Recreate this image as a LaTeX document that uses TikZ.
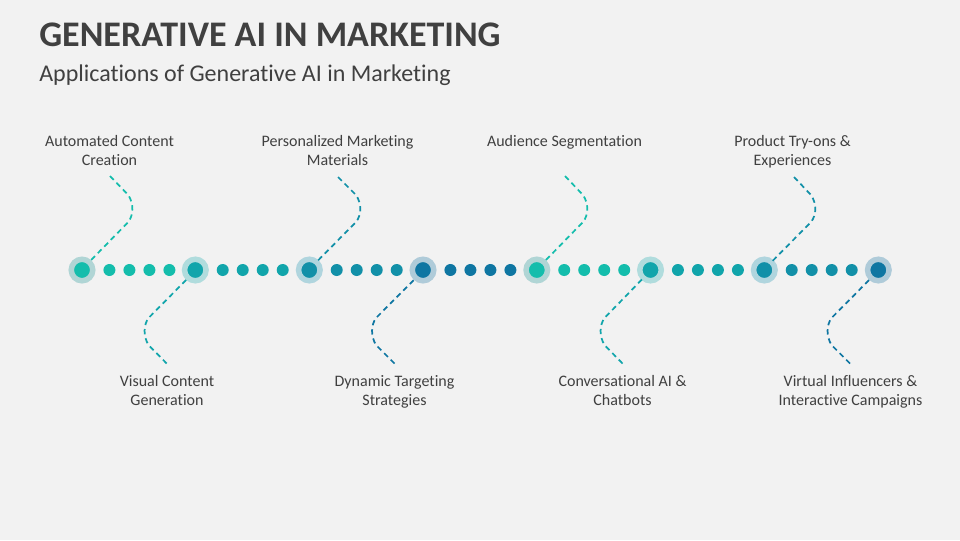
\documentclass[tikz,border=0pt]{standalone}
\usepackage{fontspec}
\setmainfont[Ligatures=NoCommon]{Carlito}
\usetikzlibrary{positioning}
\definecolor{pagebg}{HTML}{F2F2F2}
\definecolor{inktext}{HTML}{404040}
\definecolor{tealA}{HTML}{14BDAC}
\definecolor{tealB}{HTML}{11A5AB}
\definecolor{tealC}{HTML}{1290A8}
\definecolor{tealD}{HTML}{0F76A2}
\definecolor{ringA}{HTML}{B0D5D5}
\definecolor{ringB}{HTML}{B0DCDD}
\definecolor{ringC}{HTML}{B0D5DE}
\definecolor{ringD}{HTML}{AFCBD9}
\tikzset{
    hub/.style 2 args={circle,fill=#1,draw=#2,line width=4.125pt,inner sep=0pt,minimum size=16.125pt,outer sep=0pt},
    dot/.style={circle,fill=#1,inner sep=0pt,minimum size=9pt,outer sep=0pt},
    lead/.style={draw=#1,line width=1.3pt,dash pattern=on 4pt off 3pt},
    caption/.style={text=inktext,align=center,text depth=3pt,font=\fontsize{12}{14.25}\selectfont}
}

\begin{document}
\begin{tikzpicture}[x=0.75pt,y=-0.75pt,node distance=6pt]
    \fill[pagebg] (0,0) rectangle (960,540);
    \useasboundingbox (0,0) rectangle (960,540);

    \node[anchor=west,inner sep=0pt,text=inktext,font=\fontsize{27}{30}\selectfont\bfseries] (title) at (39,34.5) {GENERATIVE AI IN MARKETING};
    \node[anchor=west,inner sep=0pt,text=inktext,font=\fontsize{18}{22}\selectfont] (subtitle) at (39,75) {Applications of Generative AI in Marketing};

    % big stops on the line
    \node[hub={tealA}{ringA}] (h1) at (82,270) {};
    \node[hub={tealB}{ringB}] (h2) at (195.3,270) {};
    \node[hub={tealC}{ringC}] (h3) at (309.3,270) {};
    \node[hub={tealD}{ringD}] (h4) at (423,270) {};
    \node[hub={tealA}{ringA}] (h5) at (536.8,270) {};
    \node[hub={tealB}{ringB}] (h6) at (650.5,270) {};
    \node[hub={tealC}{ringC}] (h7) at (764.3,270) {};
    \node[hub={tealD}{ringD}] (h8) at (878.3,270) {};

    % small dots between them
    \node[dot=tealA,right=8pt of h1] (a1) {};
    \node[dot=tealA,right=of a1] (a2) {};
    \node[dot=tealA,right=of a2] (a3) {};
    \node[dot=tealA,right=of a3] (a4) {};

    \node[dot=tealB,right=8pt of h2] (b1) {};
    \node[dot=tealB,right=of b1] (b2) {};
    \node[dot=tealB,right=of b2] (b3) {};
    \node[dot=tealB,right=of b3] (b4) {};

    \node[dot=tealC,right=8pt of h3] (c1) {};
    \node[dot=tealC,right=of c1] (c2) {};
    \node[dot=tealC,right=of c2] (c3) {};
    \node[dot=tealC,right=of c3] (c4) {};

    \node[dot=tealD,right=8pt of h4] (d1) {};
    \node[dot=tealD,right=of d1] (d2) {};
    \node[dot=tealD,right=of d2] (d3) {};
    \node[dot=tealD,right=of d3] (d4) {};

    \node[dot=tealA,right=8pt of h5] (e1) {};
    \node[dot=tealA,right=of e1] (e2) {};
    \node[dot=tealA,right=of e2] (e3) {};
    \node[dot=tealA,right=of e3] (e4) {};

    \node[dot=tealB,right=8pt of h6] (f1) {};
    \node[dot=tealB,right=of f1] (f2) {};
    \node[dot=tealB,right=of f2] (f3) {};
    \node[dot=tealB,right=of f3] (f4) {};

    \node[dot=tealC,right=8pt of h7] (g1) {};
    \node[dot=tealC,right=of g1] (g2) {};
    \node[dot=tealC,right=of g2] (g3) {};
    \node[dot=tealC,right=of g3] (g4) {};

    % captions
    \node[caption] (t1) at (109.5,152.5) {Automated Content\\Creation};
    \node[caption] (t2) at (167,392.5) {Visual Content\\Generation};
    \node[caption] (t3) at (337.5,152.5) {Personalized Marketing\\Materials};
    \node[caption] (t4) at (394.5,392.5) {Dynamic Targeting\\Strategies};
    \node[caption] (t5) at (564.5,143) {Audience Segmentation};
    \node[caption] (t6) at (622.5,392.5) {Conversational AI \&\\Chatbots};
    \node[caption] (t7) at (792.5,152.5) {Product Try-ons \&\\Experiences};
    \node[caption] (t8) at (850.5,392.5) {Virtual Influencers \&\\Interactive Campaigns};

    % free ends of the dashed leads
    \coordinate (p1) at (110,176);
    \coordinate (p2) at (166.7,363.5);
    \coordinate (p3) at (338,177);
    \coordinate (p4) at (394.5,363.5);
    \coordinate (p5) at (565,176);
    \coordinate (p6) at (622.5,363.5);
    \coordinate (p7) at (794,177);
    \coordinate (p8) at (850,363.5);

    \draw[lead=tealA] (p1) -- (128.3,195) .. controls (134,204) and (133.5,215) .. (128.3,222) -- (h1.48);
    \draw[lead=tealB] (p2) -- (148.5,345) .. controls (143,336) and (143.5,325) .. (148.5,318) -- (h2.228);
    \draw[lead=tealC] (p3) -- (356,195) .. controls (362,204) and (361.5,215) .. (356,222) -- (h3.48);
    \draw[lead=tealD] (p4) -- (376,345) .. controls (370.5,336) and (371,325) .. (376,318) -- (h4.228);
    \draw[lead=tealA] (p5) -- (583,195) .. controls (589,204) and (588.5,215) .. (583,222) -- (h5.48);
    \draw[lead=tealB] (p6) -- (604.5,345) .. controls (599,336) and (599.5,325) .. (604.5,318) -- (h6.228);
    \draw[lead=tealC] (p7) -- (811,195) .. controls (817,204) and (816.5,215) .. (811,222) -- (h7.48);
    \draw[lead=tealD] (p8) -- (831.5,345) .. controls (826,336) and (826.5,325) .. (831.5,318) -- (h8.228);
\end{tikzpicture}
\end{document}
